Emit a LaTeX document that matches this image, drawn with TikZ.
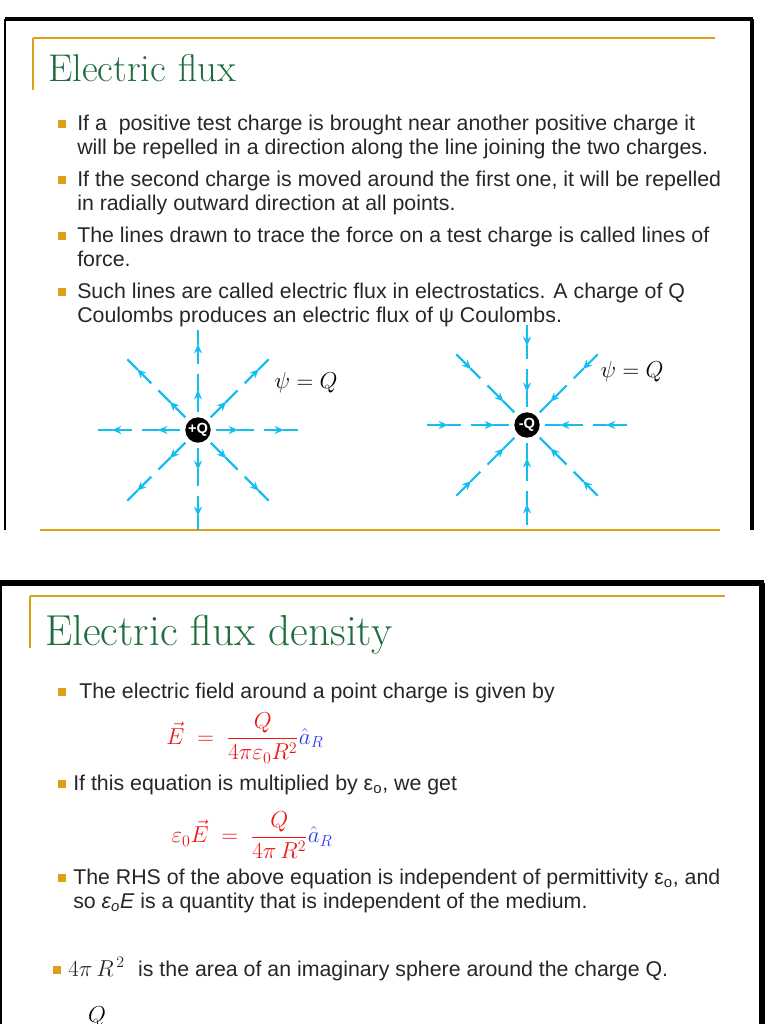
\documentclass[tikz,border=0pt]{standalone}
\usepackage{fontspec}
\setsansfont{Liberation Sans}
\usepackage{amsmath}
\usetikzlibrary{arrows.meta,calc}
\definecolor{ttl}{RGB}{30,110,60}
\definecolor{org}{RGB}{220,160,20}
\definecolor{fl}{RGB}{20,190,240}
\definecolor{eqr}{RGB}{240,20,20}
\definecolor{eqb}{RGB}{40,60,240}
\tikzset{
  bul/.style={fill=org,minimum size=6.5pt,inner sep=0pt},
  txt/.style={anchor=base west,font=\sffamily\fontsize{16}{19}\selectfont,inner sep=0pt,text=black!85},
  title/.style={anchor=base west,text=ttl,inner sep=0pt},
  fline/.style={fl,line width=1.6pt},
  chg/.style={circle,fill=black,minimum size=19pt,inner sep=0pt,text=white,font=\sffamily\bfseries\fontsize{11}{11}\selectfont},
}
\begin{document}
\begin{tikzpicture}[x=0.75pt,y=-0.75pt]
\useasboundingbox (0,0) rectangle (768,1024);
% slide 1 frame
\draw[line width=3pt] (5,19.5) -- (753,19.5);
\draw[line width=3pt] (752,19.5) -- (752,530);
\draw[line width=0.8pt] (5,19.5) -- (5,530);
\draw[org,line width=1.2pt] (33,38) -- (715,38);
\draw[org,line width=0.8pt] (33,38) -- (33,90);
\draw[org,line width=1.2pt] (40,530) -- (720,530);
\node[title,font=\fontsize{29}{34}\selectfont] (t1) at (48,82) {Electric flux};
% bullets slide 1
\foreach \y/\t in {130/{If a\ \ positive test charge is brought near another positive charge it},
  186/{If the second charge is moved around the first one, it will be repelled},
  242/{The lines drawn to trace the force on a test charge is called lines of},
  298/{Such lines are called electric flux in electrostatics. A charge of Q}}
  {\node[bul] at (62,\y-6) {}; \node[txt] at (77,\y) {\t};}
\node[txt] at (77,154) {will be repelled in a direction along the line joining the two charges.};
\node[txt] at (77,210) {in radially outward direction at all points.};
\node[txt] at (77,266) {force.};
\node[txt] at (77,322) {Coulombs produces an electric flux of ψ Coulombs.};
% positive charge
\coordinate (P) at (198,430);
\foreach \a in {0,45,...,315}{
  \draw[fline,-{Stealth[length=7pt,width=6pt]}] ($(P)+(\a:18)$) -- ($(P)+(\a:40)$);
  \draw[fline] ($(P)+(\a:39)$) -- ($(P)+(\a:56)$);
  \draw[fline,-{Stealth[length=7pt,width=6pt]}] ($(P)+(\a:66)$) -- ($(P)+(\a:86)$);
  \draw[fline] ($(P)+(\a:85)$) -- ($(P)+(\a:100)$);
}
\node[chg] (pq) at (P) {+Q};
\node[font=\fontsize{18}{18}\selectfont] (psi1) at (306,383) {$\psi=Q$};
% negative charge
\coordinate (N) at (527,425);
\foreach \a in {0,45,...,315}{
  \draw[fline,-{Stealth[length=7pt,width=6pt]}] ($(N)+(\a:56)$) -- ($(N)+(\a:33)$);
  \draw[fline] ($(N)+(\a:34)$) -- ($(N)+(\a:18)$);
  \draw[fline,-{Stealth[length=7pt,width=6pt]}] ($(N)+(\a:100)$) -- ($(N)+(\a:79)$);
  \draw[fline] ($(N)+(\a:80)$) -- ($(N)+(\a:66)$);
}
\node[chg] (nq) at (N) {-Q};
\node[font=\fontsize{18}{18}\selectfont] (psi2) at (632,372) {$\psi=Q$};
% slide 2 frame
\draw[line width=4pt] (0,583) -- (764,583);
\draw[line width=4pt] (762,583) -- (762,1024);
\draw[line width=0.8pt] (1,583) -- (1,1024);
\draw[org,line width=1pt] (30,596) -- (725,596);
\draw[org,line width=0.8pt] (30,596) -- (30,648);
\node[title,font=\fontsize{32.5}{38}\selectfont] (t2) at (45,645) {Electric flux density};
\node[bul] at (62,692) {}; \node[txt] at (79,698) {The electric field around a point charge is given by};
\node[font=\fontsize{18}{18}\selectfont] (eq1) at (245,738) {$\color{eqr}\vec E\;=\;\dfrac{Q}{4\pi\varepsilon_0 R^2}\color{eqb}\hat a_R$};
\node[bul] at (62,784) {}; \node[txt] at (73,790) {If this equation is multiplied by ε\textsubscript{o}, we get};
\node[font=\fontsize{18}{18}\selectfont] (eq2) at (252,835) {$\color{eqr}\varepsilon_0\vec E\;=\;\dfrac{Q}{4\pi\, R^2}\color{eqb}\hat a_R$};
\node[bul] at (62,878) {}; \node[txt] at (73,884) {The RHS of the above equation is independent of permittivity ε\textsubscript{o}, and};
\node[txt] at (73,908) {so \textit{ε\textsubscript{o}E} is a quantity that is independent of the medium.};
\node[bul] at (57,970) {}; \node[txt] at (68,976) {\fontsize{18}{18}\selectfont$4\pi\,R^{\,2}$\ \ \sffamily\fontsize{16}{19}\selectfont is the area of an imaginary sphere around the charge Q.};
\node[font=\fontsize{17}{17}\selectfont,anchor=base] (q) at (97,1022) {$Q$};
\end{tikzpicture}
\end{document}
